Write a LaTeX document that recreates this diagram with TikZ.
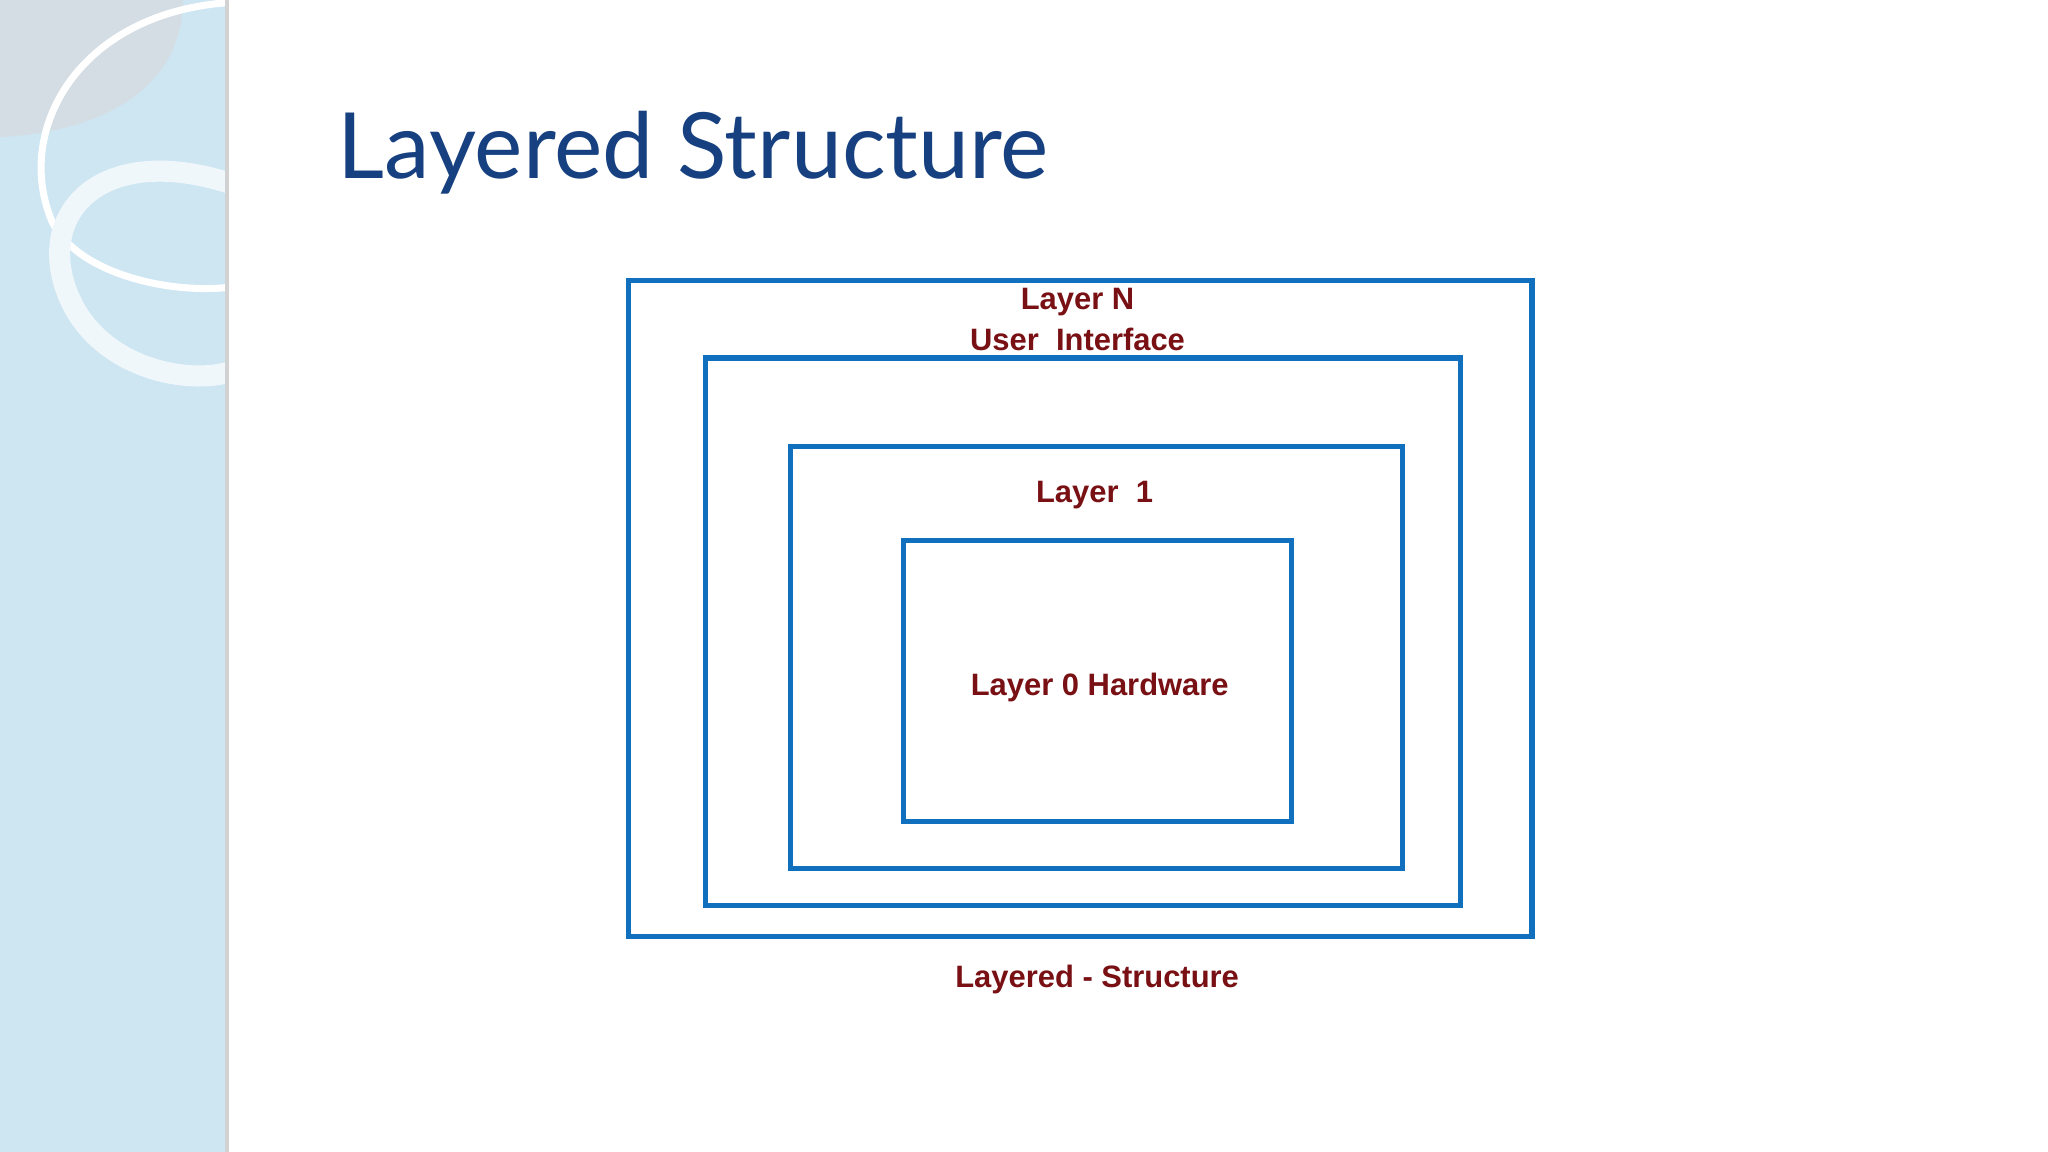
\documentclass[tikz,border=0pt]{standalone}
\usepackage{fontspec}
\setmainfont{Liberation Sans}
\newfontfamily\titlefont{Lato}
\begin{document}
\begin{tikzpicture}[x=0.013061cm,y=-0.013061cm,
  layer/.style={draw=layblue,line width=1.5pt},
  lab/.style={text=labred,font=\fontsize{8.8}{10}\selectfont\bfseries,inner sep=0pt}]
\definecolor{layblue}{RGB}{16,112,190}
\definecolor{labred}{RGB}{120,16,20}
\definecolor{titleblue}{RGB}{22,64,128}
\definecolor{side}{RGB}{206,229,242}
\useasboundingbox (0,0) rectangle (1568,882);
\fill[white] (0,0) rectangle (1568,882);
% sidebar
\fill[side] (0,0) rectangle (173,882);
\begin{scope}
\clip (0,0) rectangle (173,882);
\fill[gray!30,opacity=0.6] (0,0) -- (140,0) .. controls (140,60) and (90,100) .. (0,105) -- cycle;
\draw[white,line width=2pt] (175,2) .. controls (60,10) and (10,100) .. (40,170) .. controls (60,210) and (130,225) .. (175,220);
\draw[white!70!side,line width=6pt] (175,140) .. controls (80,110) and (30,160) .. (50,220) .. controls (70,280) and (140,295) .. (175,285);
\end{scope}
\fill[gray!35] (172,0) rectangle (175,882);
% title
\node[anchor=base west,inner sep=0pt,text=titleblue,font=\titlefont\fontsize{26}{30}\selectfont] (title) at (258,137) {Layered Structure};
% layers
\draw[layer] (481,215) rectangle (1173,717);
\draw[layer] (540,274) rectangle (1118,693);
\draw[layer] (605,342) rectangle (1074,665);
\draw[layer] (692,414) rectangle (989,629);
\node[lab] (ln) at (825,231) {Layer N};
\node[lab] (ui) at (825,260) {User\ \ Interface};
\node[lab] (l1) at (838,379) {Layer\ \ 1};
\node[lab] (l0) at (842,526) {Layer 0 Hardware};
\node[lab] (cap) at (840,750) {Layered - Structure};
\end{tikzpicture}
\end{document}
